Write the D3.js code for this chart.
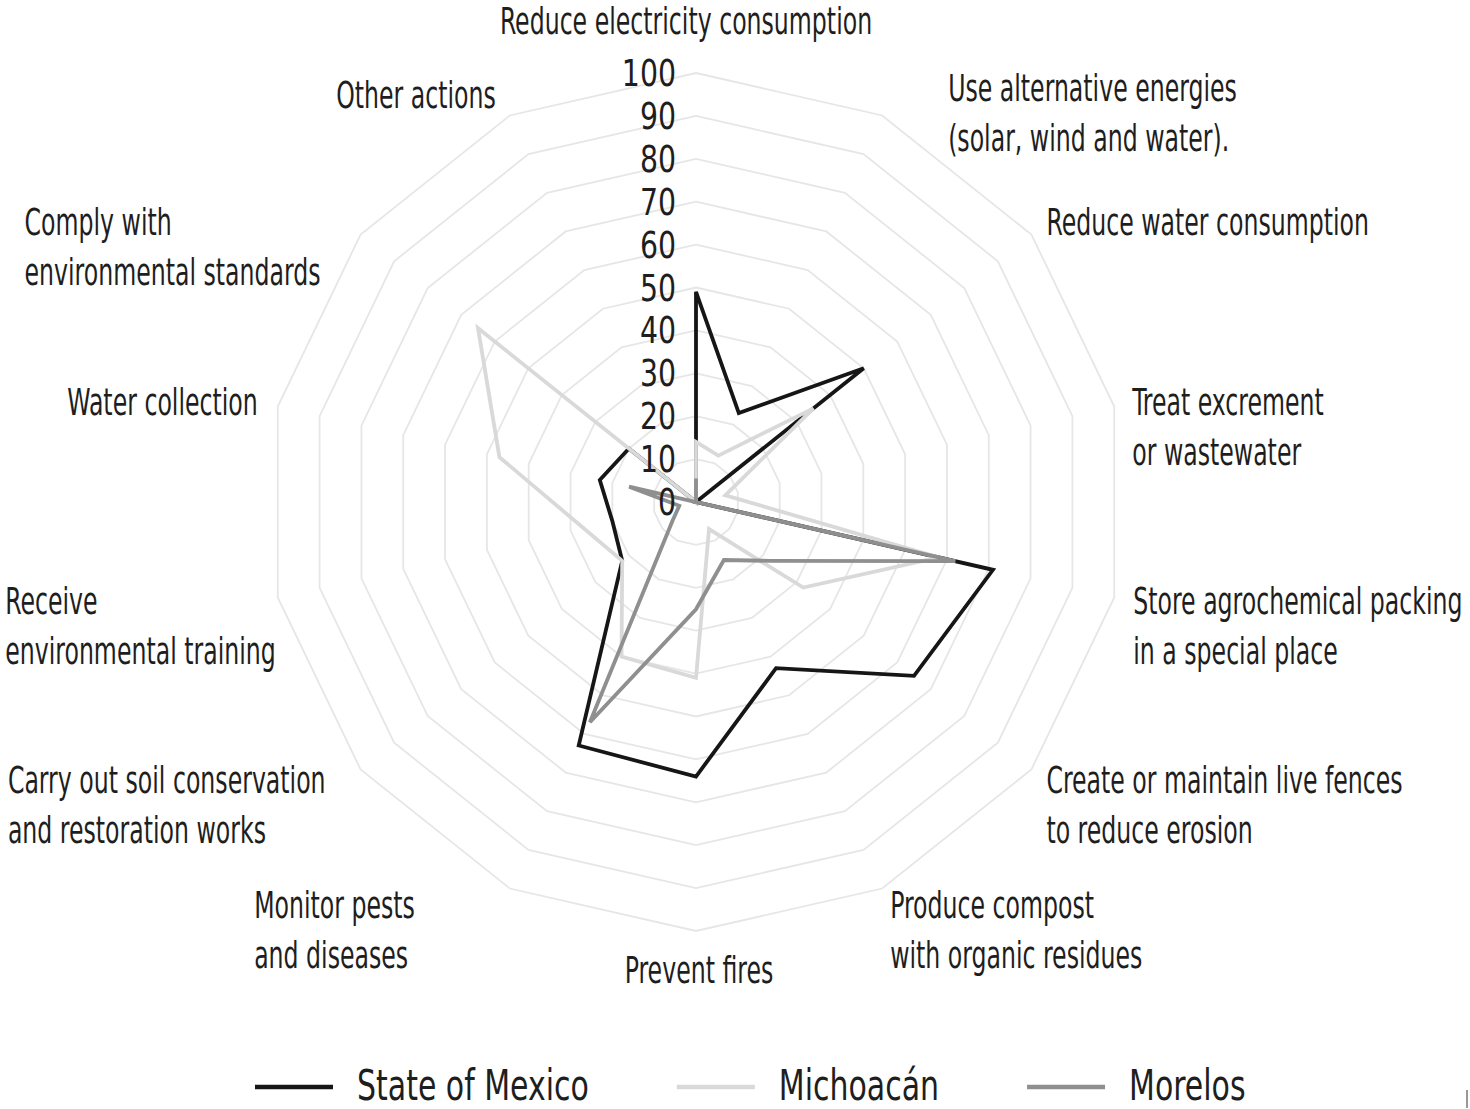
<!DOCTYPE html>
<html>
<head>
<meta charset="utf-8">
<script src="https://cdn.jsdelivr.net/npm/d3@7"></script>
<style>
  body { margin: 0; background: #fff; }
  text {
    font-family: "Liberation Sans Narrow", "DejaVu Sans Condensed", "Liberation Sans", sans-serif;
    fill: #1e1e1e;
  }
</style>
</head>
<body>
<script>
// categories, clockwise from the top ("\n" = line break in the label)
const categories = [
  "Reduce electricity consumption",
  "Use alternative energies\n(solar, wind and water).",
  "Reduce water consumption",
  "Treat excrement\nor wastewater",
  "Store agrochemical packing\nin a special place",
  "Create or maintain live fences\nto reduce erosion",
  "Produce compost\nwith organic residues",
  "Prevent fires",
  "Monitor pests\nand diseases",
  "Carry out soil conservation\nand restoration works",
  "Receive\nenvironmental training",
  "Water collection",
  "Comply with\nenvironmental standards",
  "Other actions"
]

// series values (percent), same order as categories
const seriesNames = ["State of Mexico", "Michoacán", "Morelos"]
const stateOfMexico = [49, 23, 50, 0, 71, 65, 43, 64, 63, 22, 20, 23, 20, 0]
const michoacan = [14, 12, 35, 7, 58, 32, 7, 41, 40, 22, 27, 47, 65, 0]
const morelos = [5.5, 0, 0, 0, 62, 22, 15, 25, 57, 7, 4, 16, 0, 0]

// radial tick labels
const ticks = [0, 10, 20, 30, 40, 50, 60, 70, 80, 90, 100]

// values
const width = 1470,
  height = 1109,
  cx = 696,
  cy = 502,
  R = 429,
  n = categories.length,
  sx = 0.71 // squeeze text horizontally, the original font is very narrow

const seriesColors = ["#161616", "#d9d9d9", "#8f8f8f"]
const seriesData = [stateOfMexico, michoacan, morelos]

// hand nudges to follow the original label placement
const labelNudge = [
  [-10, -42], [51, 8], [0, -2], [3, 31], [4, -7], [0, 0], [-7, 6],
  [3, 3], [-80, 6], [-20, 0], [13, -7], [-5, 6], [-25, 23], [1, -10]
]

const rSc = d3.scaleLinear().domain([0, 100]).range([0, R])
const angle = (i) => i * 2 * Math.PI / n

// svg container
const svg = d3.select("body")
  .append("svg")
  .attr("width", width)
  .attr("height", height)

svg.append("rect")
  .attr("width", "100%")
  .attr("height", "100%")
  .attr("fill", "white")

const chart = svg.append("g")
  .attr("transform", `translate(${cx},${cy})`)

// grid rings
const ringLine = d3.lineRadial()
  .angle((_d, i) => angle(i))
  .radius((d) => rSc(d))
  .curve(d3.curveLinearClosed)

chart.selectAll(".ring")
  .data(ticks.filter((t) => t > 0))
  .join("path")
  .attr("class", "ring")
  .attr("d", (t) => ringLine(categories.map(() => t)))
  .attr("fill", "none")
  .attr("stroke", "#e6e6e6")
  .attr("stroke-width", 1.8)

// series
chart.selectAll(".series")
  .data(seriesData)
  .join("path")
  .attr("class", "series")
  .attr("d", (d) => ringLine(d))
  .attr("fill", "none")
  .attr("stroke", (_d, i) => seriesColors[i])
  .attr("stroke-width", 3.8)
  .attr("stroke-linejoin", "miter")

// tick labels, right aligned left of the top axis
svg.selectAll(".tick")
  .data(ticks)
  .join("g")
  .attr("class", "tick")
  .attr("transform", (t) => `translate(${cx - 20},${cy - rSc(t)})`)
  .append("text")
  .attr("transform", "scale(0.83,1)")
  .attr("text-anchor", "end")
  .attr("dominant-baseline", "central")
  .style("font-size", "38px")
  .text((t) => t)

// category labels
categories.forEach((label, i) => {
  const a = angle(i),
    s = Math.sin(a),
    c = Math.cos(a),
    px = cx + R * s,
    py = cy - R * c,
    lines = label.split("\n")

  const g = svg.append("g")
  const texts = lines.map((line) =>
    g.append("text")
      .attr("transform", `scale(${sx},1)`)
      .attr("dominant-baseline", "central")
      .style("font-size", "37px")
      .text(line)
  )
  const w = d3.max(texts, (t) => t.node().getComputedTextLength()) * sx

  let x0
  if (s > 0.2) x0 = px + 15
  else if (s < -0.2) x0 = px - 15 - w
  else x0 = px - w / 2
  x0 += labelNudge[i][0]
  const yc = py + (c < 0 ? 36 : -10) + labelNudge[i][1]

  texts.forEach((t, k) => {
    t.attr("x", 0)
      .attr("y", (k - (lines.length - 1) / 2) * 50)
  })
  g.attr("transform", `translate(${x0},${yc})`)
})

// legend
const legend = svg.append("g")
  .attr("transform", `translate(255,${1085})`)
let lx = 0
seriesNames.forEach((name, i) => {
  legend.append("line")
    .attr("x1", lx)
    .attr("x2", lx + 78)
    .attr("y1", 2)
    .attr("y2", 2)
    .attr("stroke", seriesColors[i])
    .attr("stroke-width", 4.5)
  const t = legend.append("g")
    .attr("transform", `translate(${lx + 102},0)`)
    .append("text")
    .attr("transform", "scale(0.775,1)")
    .attr("dominant-baseline", "central")
    .style("font-size", "43px")
    .text(name)
  lx += 102 + t.node().getComputedTextLength() * 0.775 + 88
})

// small edge mark at the bottom right of the original
svg.append("line")
  .attr("x1", 1467).attr("x2", 1467)
  .attr("y1", 1090).attr("y2", 1108)
  .attr("stroke", "#333")
  .attr("stroke-width", 1)
</script>
</body>
</html>
